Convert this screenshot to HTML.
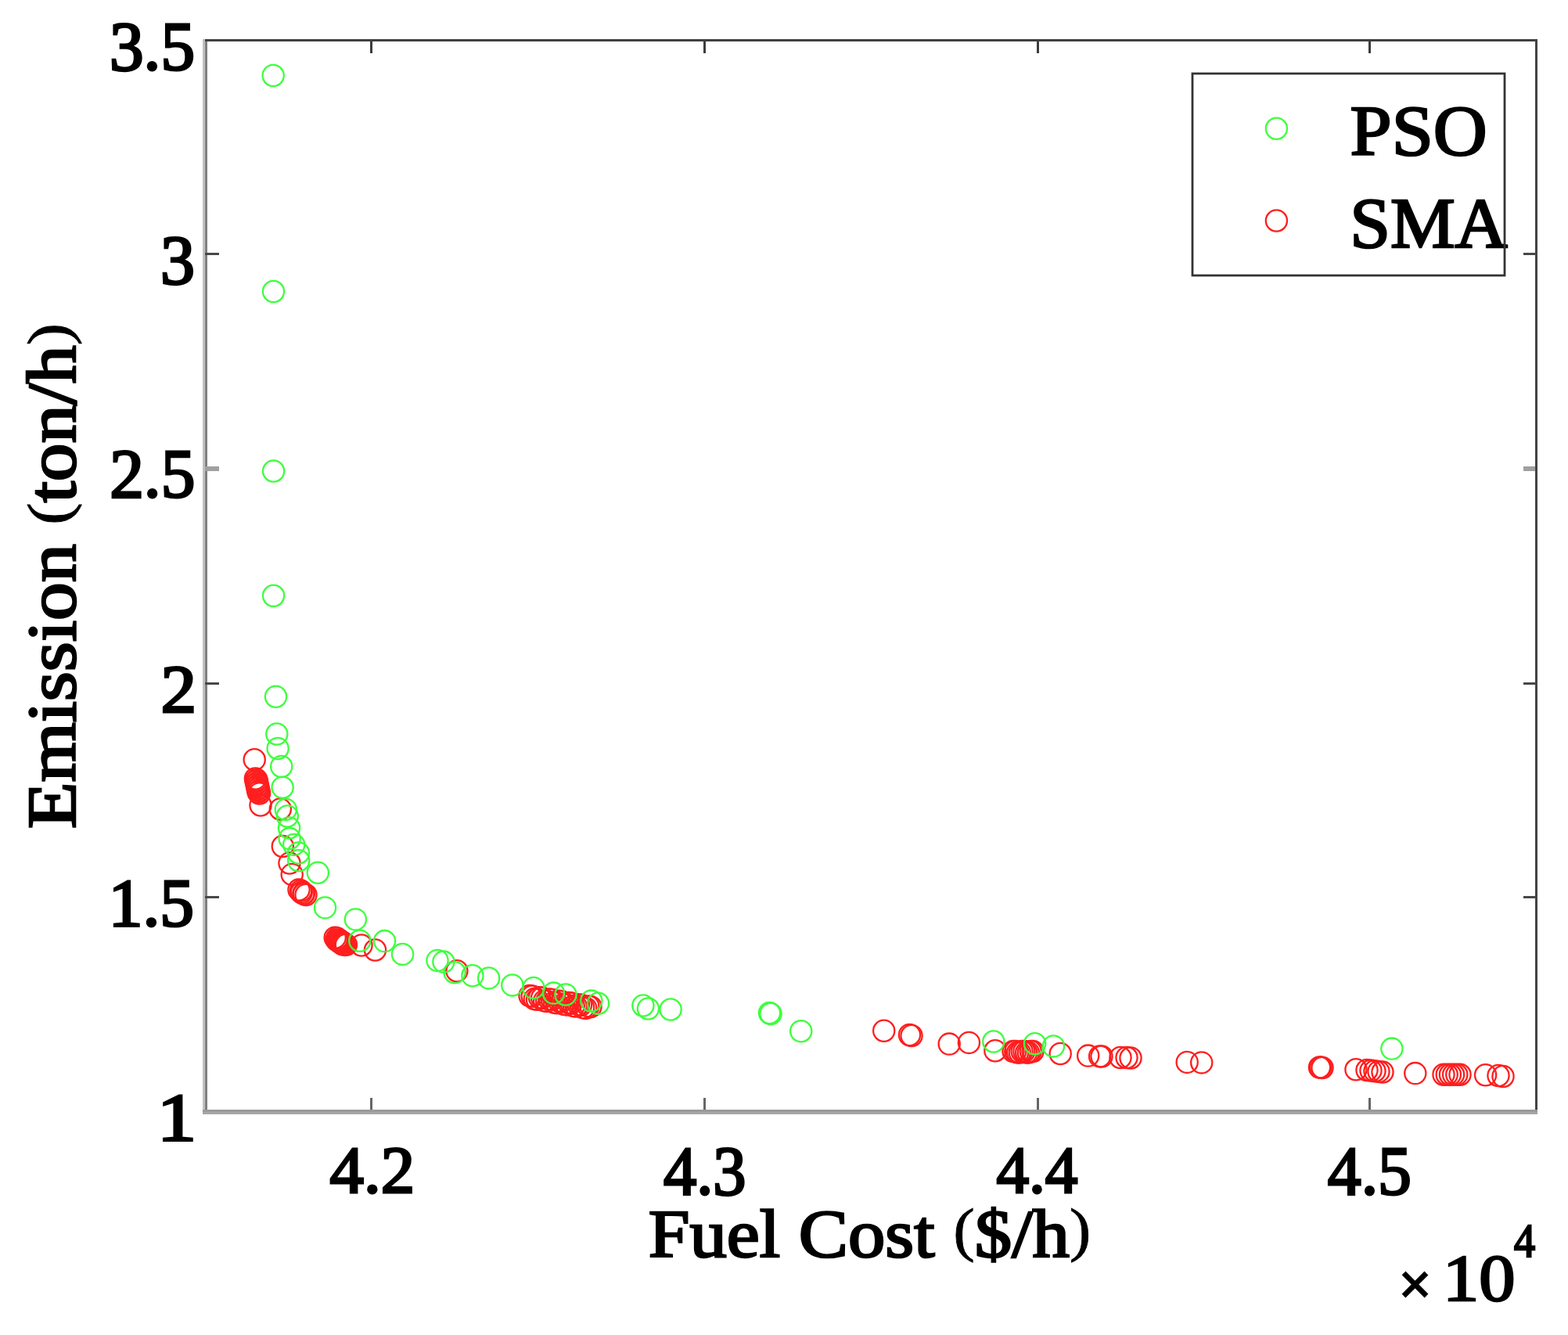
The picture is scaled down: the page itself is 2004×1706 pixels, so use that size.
<!DOCTYPE html>
<html><head><meta charset="utf-8"><style>
html,body{margin:0;padding:0;background:#fff;}
svg{display:block;}
text{font-family:"Liberation Serif", "DejaVu Serif", serif;font-weight:normal;fill:#000;stroke:#000;stroke-width:2.6px;}
</style></head><body>
<svg width="2004" height="1706" viewBox="0 0 2004 1706">
<rect x="0" y="0" width="2004" height="1706" fill="#fff"/>
<rect x="259" y="50" width="3" height="1371" fill="#c0c0c0"/>
<rect x="262" y="50" width="3" height="1371" fill="#808080"/>
<rect x="262" y="50" width="1703" height="3" fill="#404040"/>
<rect x="1962" y="50" width="3" height="1371" fill="#444"/>
<rect x="259" y="1418" width="1706" height="3" fill="#9a9a9a"/>
<rect x="259" y="1421" width="1706" height="3" fill="#a6a6a6"/>
<rect x="262" y="323" width="18" height="3" fill="#484848"/>
<rect x="1947" y="323" width="15" height="3" fill="#484848"/>
<rect x="262" y="596" width="18" height="6" fill="#a0a0a0"/>
<rect x="1947" y="596" width="15" height="6" fill="#a0a0a0"/>
<rect x="262" y="872" width="18" height="3" fill="#484848"/>
<rect x="1947" y="872" width="15" height="3" fill="#484848"/>
<rect x="262" y="1145" width="18" height="3" fill="#484848"/>
<rect x="1947" y="1145" width="15" height="3" fill="#484848"/>
<rect x="473" y="1403" width="3" height="15" fill="#666"/>
<rect x="473" y="53" width="3" height="15" fill="#3c3c3c"/>
<rect x="899" y="1403" width="3" height="15" fill="#666"/>
<rect x="899" y="53" width="3" height="15" fill="#3c3c3c"/>
<rect x="1325" y="1403" width="3" height="15" fill="#666"/>
<rect x="1325" y="53" width="3" height="15" fill="#3c3c3c"/>
<rect x="1749" y="1403" width="3" height="15" fill="#666"/>
<rect x="1749" y="53" width="3" height="15" fill="#3c3c3c"/>
<g fill="none" stroke="#ff1e1e" stroke-width="2.3"><circle cx="325.2" cy="970.7" r="13.6"/><circle cx="333.0" cy="1029.0" r="13.6"/><circle cx="326.4" cy="995.0" r="13.6"/><circle cx="328.0" cy="996.7" r="13.6"/><circle cx="327.1" cy="998.5" r="13.6"/><circle cx="328.7" cy="1000.2" r="13.6"/><circle cx="327.9" cy="1001.9" r="13.6"/><circle cx="329.4" cy="1003.6" r="13.6"/><circle cx="328.6" cy="1005.4" r="13.6"/><circle cx="330.1" cy="1007.1" r="13.6"/><circle cx="329.3" cy="1008.8" r="13.6"/><circle cx="330.9" cy="1010.5" r="13.6"/><circle cx="330.0" cy="1012.3" r="13.6"/><circle cx="331.6" cy="1014.0" r="13.6"/><circle cx="358.3" cy="1034.0" r="13.6"/><circle cx="361.3" cy="1081.5" r="13.6"/><circle cx="370.0" cy="1103.0" r="13.6"/><circle cx="373.2" cy="1117.4" r="13.6"/><circle cx="382.0" cy="1137.0" r="13.6"/><circle cx="384.6" cy="1138.3" r="13.6"/><circle cx="385.2" cy="1140.6" r="13.6"/><circle cx="387.8" cy="1141.9" r="13.6"/><circle cx="388.4" cy="1142.2" r="13.6"/><circle cx="391.0" cy="1143.5" r="13.6"/><circle cx="428.2" cy="1198.2" r="13.6"/><circle cx="430.8" cy="1198.9" r="13.6"/><circle cx="430.1" cy="1201.2" r="13.6"/><circle cx="432.7" cy="1201.9" r="13.6"/><circle cx="432.1" cy="1201.0" r="13.6"/><circle cx="434.6" cy="1201.7" r="13.6"/><circle cx="434.0" cy="1204.0" r="13.6"/><circle cx="436.6" cy="1204.6" r="13.6"/><circle cx="436.0" cy="1203.7" r="13.6"/><circle cx="438.5" cy="1204.4" r="13.6"/><circle cx="437.9" cy="1206.7" r="13.6"/><circle cx="440.5" cy="1207.4" r="13.6"/><circle cx="439.8" cy="1206.5" r="13.6"/><circle cx="442.4" cy="1207.2" r="13.6"/><circle cx="462.0" cy="1208.0" r="13.6"/><circle cx="479.5" cy="1214.0" r="13.6"/><circle cx="583.9" cy="1240.7" r="13.6"/><circle cx="677.0" cy="1272.5" r="13.6"/><circle cx="680.1" cy="1273.1" r="13.6"/><circle cx="683.2" cy="1276.6" r="13.6"/><circle cx="686.4" cy="1277.2" r="13.6"/><circle cx="689.5" cy="1274.7" r="13.6"/><circle cx="692.6" cy="1275.3" r="13.6"/><circle cx="695.7" cy="1278.9" r="13.6"/><circle cx="698.8" cy="1279.4" r="13.6"/><circle cx="702.0" cy="1277.0" r="13.6"/><circle cx="705.1" cy="1277.5" r="13.6"/><circle cx="708.2" cy="1281.1" r="13.6"/><circle cx="711.3" cy="1281.7" r="13.6"/><circle cx="714.4" cy="1279.2" r="13.6"/><circle cx="717.6" cy="1279.8" r="13.6"/><circle cx="720.7" cy="1283.3" r="13.6"/><circle cx="723.8" cy="1283.9" r="13.6"/><circle cx="726.9" cy="1281.5" r="13.6"/><circle cx="730.0" cy="1282.0" r="13.6"/><circle cx="733.2" cy="1285.6" r="13.6"/><circle cx="736.3" cy="1286.1" r="13.6"/><circle cx="739.4" cy="1283.7" r="13.6"/><circle cx="742.5" cy="1284.3" r="13.6"/><circle cx="745.6" cy="1287.8" r="13.6"/><circle cx="748.8" cy="1288.4" r="13.6"/><circle cx="751.9" cy="1285.9" r="13.6"/><circle cx="755.0" cy="1286.5" r="13.6"/><circle cx="1129.7" cy="1317.3" r="13.6"/><circle cx="1162.5" cy="1322.5" r="13.6"/><circle cx="1165.0" cy="1323.5" r="13.6"/><circle cx="1213.2" cy="1334.1" r="13.6"/><circle cx="1238.4" cy="1332.4" r="13.6"/><circle cx="1271.9" cy="1342.8" r="13.6"/><circle cx="1295.0" cy="1343.5" r="13.6"/><circle cx="1297.8" cy="1343.5" r="13.6"/><circle cx="1300.6" cy="1345.1" r="13.6"/><circle cx="1303.3" cy="1345.1" r="13.6"/><circle cx="1306.1" cy="1343.5" r="13.6"/><circle cx="1308.9" cy="1343.5" r="13.6"/><circle cx="1311.7" cy="1345.1" r="13.6"/><circle cx="1314.4" cy="1345.1" r="13.6"/><circle cx="1317.2" cy="1343.5" r="13.6"/><circle cx="1320.0" cy="1343.5" r="13.6"/><circle cx="1355.2" cy="1346.5" r="13.6"/><circle cx="1390.7" cy="1349.1" r="13.6"/><circle cx="1405.6" cy="1349.9" r="13.6"/><circle cx="1408.0" cy="1350.0" r="13.6"/><circle cx="1432.0" cy="1351.5" r="13.6"/><circle cx="1440.0" cy="1351.5" r="13.6"/><circle cx="1445.0" cy="1352.0" r="13.6"/><circle cx="1517.2" cy="1357.4" r="13.6"/><circle cx="1535.7" cy="1357.9" r="13.6"/><circle cx="1686.5" cy="1364.0" r="13.6"/><circle cx="1688.0" cy="1364.0" r="13.6"/><circle cx="1690.0" cy="1364.5" r="13.6"/><circle cx="1733.0" cy="1366.7" r="13.6"/><circle cx="1747.0" cy="1367.5" r="13.6"/><circle cx="1752.0" cy="1368.1" r="13.6"/><circle cx="1757.0" cy="1368.8" r="13.6"/><circle cx="1762.0" cy="1369.4" r="13.6"/><circle cx="1767.0" cy="1370.0" r="13.6"/><circle cx="1808.8" cy="1371.6" r="13.6"/><circle cx="1845.0" cy="1373.3" r="13.6"/><circle cx="1849.2" cy="1373.3" r="13.6"/><circle cx="1853.4" cy="1373.3" r="13.6"/><circle cx="1857.6" cy="1373.3" r="13.6"/><circle cx="1861.8" cy="1373.3" r="13.6"/><circle cx="1866.0" cy="1373.3" r="13.6"/><circle cx="1898.6" cy="1373.7" r="13.6"/><circle cx="1915.0" cy="1374.5" r="13.6"/><circle cx="1921.0" cy="1375.5" r="13.6"/></g>
<g fill="none" stroke="#3dff3d" stroke-width="2.3"><circle cx="349.2" cy="96.5" r="13.6"/><circle cx="349.5" cy="372.5" r="13.6"/><circle cx="349.6" cy="602.0" r="13.6"/><circle cx="349.6" cy="761.2" r="13.6"/><circle cx="352.5" cy="890.2" r="13.6"/><circle cx="353.8" cy="938.0" r="13.6"/><circle cx="355.1" cy="956.5" r="13.6"/><circle cx="359.7" cy="979.5" r="13.6"/><circle cx="361.1" cy="1006.3" r="13.6"/><circle cx="365.3" cy="1034.4" r="13.6"/><circle cx="367.3" cy="1043.0" r="13.6"/><circle cx="370.1" cy="1071.6" r="13.6"/><circle cx="375.7" cy="1079.4" r="13.6"/><circle cx="381.7" cy="1099.8" r="13.6"/><circle cx="406.3" cy="1115.2" r="13.6"/><circle cx="415.5" cy="1159.9" r="13.6"/><circle cx="454.4" cy="1174.9" r="13.6"/><circle cx="459.8" cy="1202.2" r="13.6"/><circle cx="491.5" cy="1202.6" r="13.6"/><circle cx="514.5" cy="1219.4" r="13.6"/><circle cx="559.0" cy="1227.4" r="13.6"/><circle cx="566.9" cy="1229.1" r="13.6"/><circle cx="581.1" cy="1242.7" r="13.6"/><circle cx="603.9" cy="1246.7" r="13.6"/><circle cx="624.6" cy="1249.9" r="13.6"/><circle cx="654.8" cy="1258.9" r="13.6"/><circle cx="681.9" cy="1262.4" r="13.6"/><circle cx="707.5" cy="1269.1" r="13.6"/><circle cx="723.0" cy="1271.0" r="13.6"/><circle cx="755.8" cy="1279.1" r="13.6"/><circle cx="764.5" cy="1282.3" r="13.6"/><circle cx="821.9" cy="1285.0" r="13.6"/><circle cx="828.4" cy="1289.0" r="13.6"/><circle cx="857.1" cy="1290.0" r="13.6"/><circle cx="983.5" cy="1294.5" r="13.6"/><circle cx="985.0" cy="1295.5" r="13.6"/><circle cx="1023.7" cy="1317.7" r="13.6"/><circle cx="1269.8" cy="1331.0" r="13.6"/><circle cx="1322.6" cy="1333.8" r="13.6"/><circle cx="1346.4" cy="1336.9" r="13.6"/><circle cx="1778.9" cy="1340.1" r="13.6"/><circle cx="369.5" cy="1058.0" r="13.6"/><circle cx="381.5" cy="1090.0" r="13.6"/></g>
<text x="140.00" y="89.00" font-family="Liberation Serif" style="stroke-width:3.1px" font-size="88.07" textLength="109.00" lengthAdjust="spacingAndGlyphs">3.5</text>
<text x="205.00" y="362.00" font-family="Liberation Serif" style="stroke-width:3.1px" font-size="89.47" textLength="44.00" lengthAdjust="spacingAndGlyphs">3</text>
<text x="140.20" y="635.40" font-family="Liberation Serif" style="stroke-width:3.1px" font-size="89.19" textLength="109.20" lengthAdjust="spacingAndGlyphs">2.5</text>
<text x="205.40" y="909.60" font-family="Liberation Serif" style="stroke-width:3.1px" font-size="87.43" textLength="45.60" lengthAdjust="spacingAndGlyphs">2</text>
<text x="138.80" y="1183.00" font-family="Liberation Serif" style="stroke-width:3.1px" font-size="86.86" textLength="109.20" lengthAdjust="spacingAndGlyphs">1.5</text>
<text x="201.00" y="1457.00" font-family="Liberation Serif" style="stroke-width:3.1px" font-size="86.63" textLength="50.00" lengthAdjust="spacingAndGlyphs">1</text>
<text x="421.60" y="1523.80" font-family="Liberation Serif" style="stroke-width:3.1px" font-size="83.74" textLength="108.40" lengthAdjust="spacingAndGlyphs">4.2</text>
<text x="848.00" y="1526.00" font-family="Liberation Serif" style="stroke-width:3.1px" font-size="88.07" textLength="105.60" lengthAdjust="spacingAndGlyphs">4.3</text>
<text x="1273.40" y="1524.00" font-family="Liberation Serif" style="stroke-width:3.1px" font-size="85.41" textLength="104.00" lengthAdjust="spacingAndGlyphs">4.4</text>
<text x="1696.80" y="1526.00" font-family="Liberation Serif" style="stroke-width:3.1px" font-size="89.75" textLength="107.20" lengthAdjust="spacingAndGlyphs">4.5</text>
<text x="1844.00" y="1662.00" font-family="Liberation Serif" font-size="85.25" textLength="92.60" lengthAdjust="spacingAndGlyphs">10</text>
<text x="1935.00" y="1606.00" font-family="Liberation Serif" font-size="60.59" textLength="27.00" lengthAdjust="spacingAndGlyphs">4</text>
<text x="1788.00" y="1665.00" font-family="Liberation Sans" style="font-family:&quot;Liberation Sans&quot;,sans-serif;stroke-width:1.8px" font-size="69.68" textLength="41.00" lengthAdjust="spacingAndGlyphs">×</text>
<text x="828.80" y="1605.80" font-size="87.38" textLength="565.60" lengthAdjust="spacingAndGlyphs">Fuel Cost <tspan dy="-8.4" font-size="76.45" style="stroke-width:0.8px">(</tspan><tspan dy="8.4">$/h</tspan><tspan dy="-8.4" font-size="76.45" style="stroke-width:0.8px">)</tspan></text>
<text transform="translate(96.00,1059.00) rotate(-90)" font-size="88.00" textLength="646.00" lengthAdjust="spacingAndGlyphs">Emission <tspan dy="-8.4" font-size="77.00" style="stroke-width:0.8px">(</tspan><tspan dy="8.4">ton/h</tspan><tspan dy="-8.4" font-size="77.00" style="stroke-width:0.8px">)</tspan></text>
<rect x="1524" y="94" width="399" height="258" fill="#fff"/>
<circle cx="1631.4" cy="164.2" r="13.6" fill="none" stroke="#3dff3d" stroke-width="2.3"/>
<circle cx="1631.4" cy="282" r="13.6" fill="none" stroke="#ff1e1e" stroke-width="2.3"/>
<text x="1725.60" y="198.00" font-size="91.77" textLength="175.20" lengthAdjust="spacingAndGlyphs">PSO</text>
<text x="1725.20" y="315.60" font-size="91.77" textLength="201.60" lengthAdjust="spacingAndGlyphs">SMA</text>
<rect x="1524" y="94" width="399" height="258" fill="none" stroke="#333" stroke-width="2.8"/>
</svg>
</body></html>
